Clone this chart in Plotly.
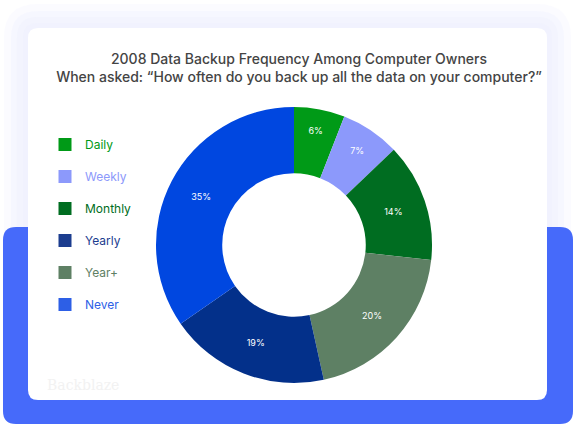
import plotly.graph_objects as go

W, H = 580, 433

# slices, clockwise from 12 o'clock
slice_labels = ['Daily', 'Weekly', 'Monthly', 'Year+', 'Yearly', 'Never']
slice_values = [6, 7, 14, 20, 19, 35]
slice_colors = ['#009a17', '#8c99fb', '#006d21', '#5e8064', '#03308a', '#0047e0']

# legend order as shown on the left
legend_labels = ['Daily', 'Weekly', 'Monthly', 'Yearly', 'Year+', 'Never']
legend_colors = ['#009a17', '#8c99fb', '#006d21', '#1c3d8f', '#5e8064', '#2d5fe6']


def px(x):
    return x / W


def py(y):
    return 1 - y / H


def rounded_rect(x0, y0, x1, y1, r):
    # pixel coords in, paper-coord svg path out
    pts = [
        ('M', x0 + r, y0), ('L', x1 - r, y0), ('Q', x1, y0, x1, y0 + r),
        ('L', x1, y1 - r), ('Q', x1, y1, x1 - r, y1),
        ('L', x0 + r, y1), ('Q', x0, y1, x0, y1 - r),
        ('L', x0, y0 + r), ('Q', x0, y0, x0 + r, y0),
    ]
    out = []
    for p in pts:
        cmd, nums = p[0], p[1:]
        coords = []
        for i in range(0, len(nums), 2):
            coords.append(f'{px(nums[i]):.5f},{py(nums[i + 1]):.5f}')
        out.append(cmd + ' '.join(coords))
    return ' '.join(out) + ' Z'


shapes = []
# soft lavender glow around the card
for grow, op in [(24, 0.25), (17, 0.35), (11, 0.5), (5, 0.7)]:
    shapes.append(dict(type='path', xref='paper', yref='paper', layer='below',
                       path=rounded_rect(28 - grow, 28 - grow, 547 + grow, 400 + grow, 10 + grow),
                       fillcolor='#eff1fe', opacity=op, line=dict(width=0)))
# blue block behind the lower half
shapes.append(dict(type='path', xref='paper', yref='paper', layer='below',
                   path=rounded_rect(3, 227, 573, 424, 13),
                   fillcolor='#466afa', line=dict(width=0)))
# white card
shapes.append(dict(type='path', xref='paper', yref='paper', layer='below',
                   path=rounded_rect(28, 28, 547, 400, 10),
                   fillcolor='#ffffff', line=dict(width=0)))

fig = go.Figure()

fig.add_trace(go.Pie(
    labels=slice_labels, values=slice_values,
    marker=dict(colors=slice_colors, line=dict(width=0)),
    hole=0.52, sort=False, direction='clockwise', rotation=0,
    texttemplate='%{percent:.0%}', textposition='inside',
    insidetextorientation='horizontal',
    textfont=dict(color='white', size=9, family='Inter'),
    domain=dict(x=[px(156), px(432)], y=[py(383), py(107)]),
    showlegend=False,
))

# legend entries
for name, color in zip(legend_labels, legend_colors):
    fig.add_trace(go.Scatter(
        x=[None], y=[None], mode='markers',
        marker=dict(symbol='square', size=13, color=color),
        name=f"<span style='color:{color}'>{name}</span>",
        legendgroup=name,
    ))

fig.add_annotation(text='Backblaze', xref='paper', yref='paper',
                   x=px(45), y=py(385), xanchor='left', yanchor='middle',
                   showarrow=False,
                   font=dict(family='DejaVu Serif', size=14, color='#f2f2f2'))

fig.update_layout(
    width=W, height=H,
    margin=dict(l=0, r=0, t=0, b=0),
    paper_bgcolor='white', plot_bgcolor='rgba(0,0,0,0)',
    shapes=shapes,
    title=dict(text='2008 Data Backup Frequency Among Computer Owners<br>'
                    'When asked: \u201cHow often do you back up all the data on your computer?\u201d',
               x=px(299), xanchor='center', y=py(64), yanchor='top',
               font=dict(family='Inter', size=14, weight=500, color='#444444')),
    legend=dict(x=px(45), y=py(130), xanchor='left', yanchor='top',
                bgcolor='rgba(0,0,0,0)', traceorder='grouped',
                tracegroupgap=13, font=dict(family='Inter', size=12)),
    xaxis=dict(visible=False), yaxis=dict(visible=False),
)

fig.write_html('out.html', config={'displayModeBar': False},
               post_script="document.body.style.margin='0px';")
